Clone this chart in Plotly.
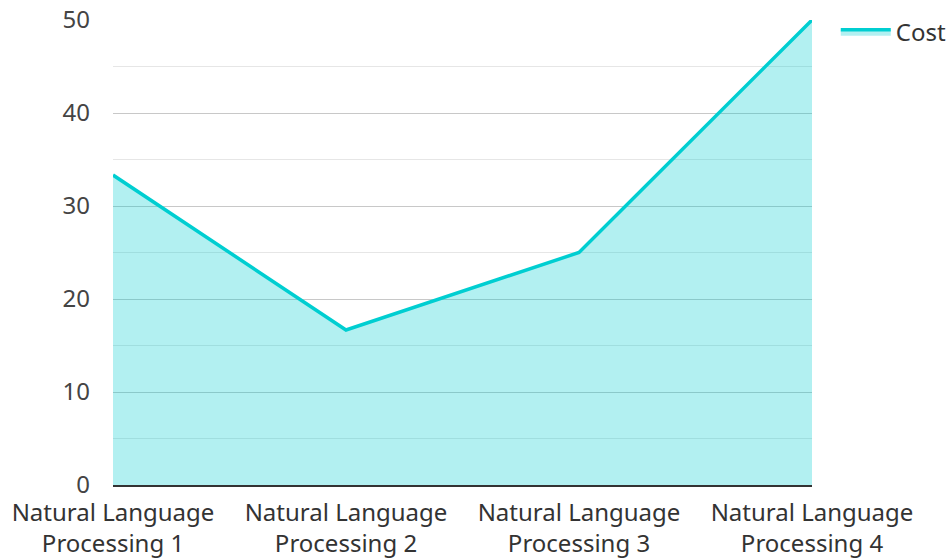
import plotly.graph_objects as go

categories = ["Natural Language<br>Processing 1", "Natural Language<br>Processing 2",
              "Natural Language<br>Processing 3", "Natural Language<br>Processing 4"]
cost = [33.33, 16.67, 25, 50]
series_name = "Cost"

fig = go.Figure()
fig.add_trace(go.Scatter(
    x=categories, y=cost, name=series_name, mode="lines",
    line=dict(color="#00CED1", width=3.5),
    fill="tozeroy", fillcolor="rgba(0,206,209,0.3)",
))

fig.update_layout(
    width=947, height=558,
    margin=dict(l=113, r=135, t=20, b=73, autoexpand=False),
    paper_bgcolor="white", plot_bgcolor="white",
    font=dict(family="Noto Sans", size=24, color="#444"),
    showlegend=True,
    legend=dict(x=1.034, y=1.022, xanchor="left", yanchor="top", itemwidth=50,
                font=dict(size=24, color="#333"), bgcolor="rgba(0,0,0,0)"),
    xaxis=dict(type="category", range=[0, 3], showgrid=False, automargin=False,
               showline=True, linecolor="#333", linewidth=2,
               ticks="", ticklabelstandoff=5,
               tickfont=dict(size=24, color="#333"), zeroline=False),
    yaxis=dict(range=[0, 50], dtick=10, showgrid=True, gridcolor="#c8c8c8", gridwidth=1,
               minor=dict(dtick=5, showgrid=True, gridcolor="#e6e6e6", gridwidth=1),
               zeroline=False, showline=False, ticks="", ticklabelstandoff=22,
               ticklabeloverflow="allow",
               automargin=False, tickfont=dict(size=24, color="#444")),
)

fig.write_html("out.html", config={"displayModeBar": False},
               post_script="document.body.style.margin='0';")
